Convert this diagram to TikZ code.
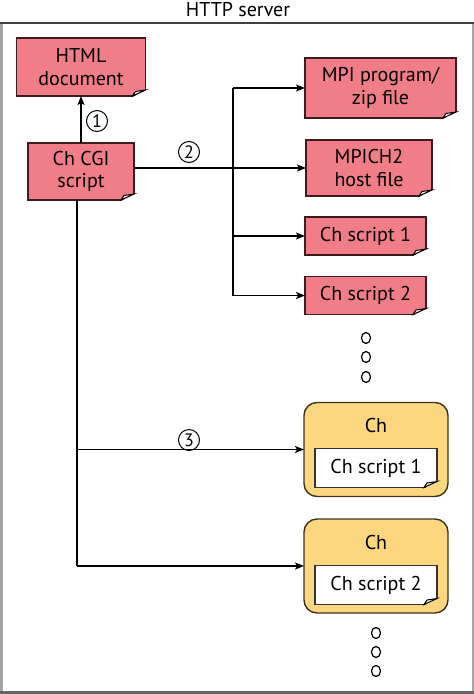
\documentclass[tikz,border=0pt]{standalone}
\usepackage{fontspec}
\setmainfont{PT Sans}
\usetikzlibrary{positioning,arrows.meta}
\definecolor{docpink}{RGB}{240,125,135}
\definecolor{docedge}{RGB}{60,28,28}
\definecolor{chyellow}{RGB}{253,214,128}
\definecolor{chedge}{RGB}{60,50,30}
\definecolor{framedark}{RGB}{64,64,64}
\definecolor{framelight}{RGB}{165,165,165}

\begin{document}
\begin{tikzpicture}[x=1pt,y=-1pt,>={Stealth[length=9pt,width=7pt,inset=2pt]},
  every node/.style={font=\fontsize{20}{22.5}\selectfont, text=black},
  doc/.style={draw=docedge, fill=docpink, line width=1.4pt, align=center, inner sep=0pt, outer sep=0pt},
  chbox/.style={draw=chedge, fill=chyellow, line width=1.4pt, rounded corners=13pt, minimum width=144pt, minimum height=94pt, inner sep=0pt, outer sep=0pt},
  inbox/.style={doc, fill=white, draw=black!80, minimum width=122pt, minimum height=39pt},
  num/.style={circle, draw, line width=1pt, minimum size=21pt, inner sep=0pt, font=\fontsize{18}{18}\selectfont},
  link/.style={line width=1.5pt}]
        \useasboundingbox (0,0) rectangle (474,694);
        % frame of the server
        \draw[framelight, line width=3pt] (1.5,22) -- (1.5,694);
        \draw[framelight, line width=2pt] (472.5,22) -- (472.5,692);
        \draw[framedark, line width=2pt] (0,22.5) -- (473.5,22.5);
        \draw[framedark!80, line width=3pt] (0,692.5) -- (474,692.5);
        \node (server) at (238,10) {HTTP server};

        \node[doc, minimum width=129pt, minimum height=58pt] (html) at (81,67) {HTML\\document};
        \node[doc, minimum width=106pt, minimum height=57pt] (cgi) at (81,171.5) {Ch CGI\\script};
        \node[doc, minimum width=151pt, minimum height=60pt] (mpi) at (380.5,88) {MPI program/\\zip file};
        \node[doc, minimum width=126pt, minimum height=56pt] (host) at (369,168) {MPICH2\\host file};
        \node[doc, minimum width=121pt, minimum height=38pt] (cs1) at (365.5,236) {Ch script 1};
        \node[doc, minimum width=121pt, minimum height=38pt] (cs2) at (365.5,295.5) {Ch script 2};

        \node[chbox] (ch1) at (376,449.5) {};
        \node (ch1lbl) at ([yshift=-23pt]ch1.north) {Ch};
        \node[inbox, above=9pt of ch1.south] (in1) {Ch script 1};
        \node[chbox] (ch2) at (376,566) {};
        \node (ch2lbl) at ([yshift=-23pt]ch2.north) {Ch};
        \node[inbox, above=8.5pt of ch2.south] (in2) {Ch script 2};

        % folded corners
        \foreach \n/\c in {html/white,cgi/white,mpi/white,host/white,cs1/white,cs2/white,in1/chyellow,in2/chyellow} {
          \fill[\c] ([xshift=-13pt,yshift=-1pt]\n.south east) -- ([xshift=1pt,yshift=-1pt]\n.south east) -- ([xshift=1pt,yshift=6pt]\n.south east) -- cycle;
          \draw[line width=1pt, fill=white] ([xshift=-13pt]\n.south east) -- ([xshift=-10pt,yshift=4.5pt]\n.south east) -- ([yshift=6pt]\n.south east) -- cycle;
        }

        \draw[link,->] (cgi) -- (html);
        \draw[link,->] (cgi.east |- host) -- (host.west);
        \coordinate (bus) at (233,0);
        \draw[link] (bus |- mpi) -- (bus |- cs2);
        \foreach \n in {mpi,cs1,cs2}
          \draw[link,->] (bus |- \n) -- (\n.west);
        \coordinate (trunk) at ([xshift=-4pt]cgi.south);
        \draw[link] (trunk) -- (trunk |- ch2);
        \foreach \n in {ch1,ch2}
          \draw[link,->] (trunk |- \n) -- (\n.west);

        \node[num] (n1) at (97,121) {1};
        \node[num] (n2) at (189,152) {2};
        \node[num] (n3) at (189,440) {3};

        \foreach \y in {338,357,377}
          \draw[line width=1.2pt] (366,\y) ellipse (4.5pt and 5.5pt);
        \foreach \y in {633,652,671}
          \draw[line width=1.2pt] (376,\y) ellipse (4.5pt and 5.5pt);
      \end{tikzpicture}
\end{document}
